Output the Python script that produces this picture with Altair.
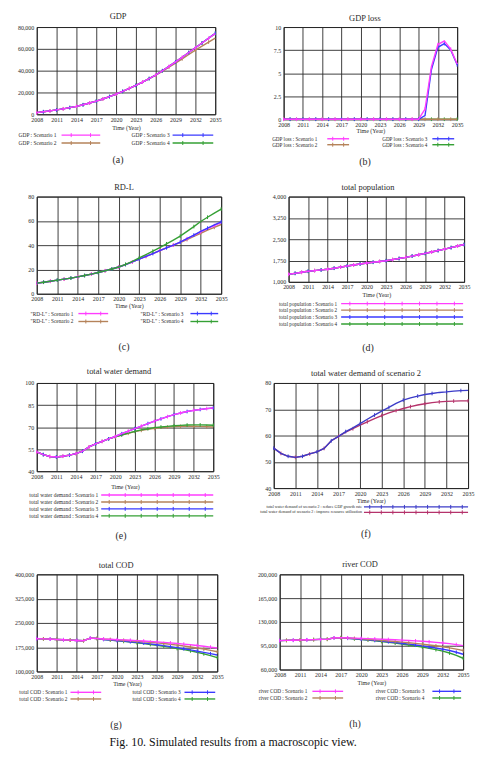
import altair as alt
import pandas as pd

YEARS = list(range(2008, 2036))
X_TICKS = [2008, 2011, 2014, 2017, 2020, 2023, 2026, 2029, 2032, 2035]

# ---------------- data ----------------
GDP_S1 = [1500, 2300, 3100, 4000, 5000, 6100, 7300, 8700, 10300, 12000, 14000, 16200, 18500, 21000,
          23700, 26500, 29500, 32700, 36000, 39900, 43900, 48000, 52300, 56600, 61000, 65300, 69700, 74000]
GDP_S2 = [1500, 2300, 3100, 4000, 5000, 6100, 7300, 8700, 10300, 12000, 14000, 16200, 18500, 21000,
          23700, 26500, 29500, 32700, 35800, 39400, 43100, 46900, 50800, 54800, 58800, 62500, 66200, 69800]
GDP_S3 = [1500, 2300, 3100, 4000, 5000, 6100, 7300, 8700, 10300, 12000, 14000, 16200, 18500, 21000,
          23700, 26500, 29500, 32700, 36000, 39900, 43900, 48000, 52300, 56600, 61000, 65400, 69900, 74300]
GDP_S4 = [1500, 2300, 3100, 4000, 5000, 6100, 7300, 8700, 10300, 12000, 14000, 16200, 18500, 21000,
          23700, 26500, 29500, 32700, 36000, 39900, 43900, 48000, 52300, 56600, 61000, 65300, 69700, 74000]

GL_S1 = [0, 0, 0, 0, 0, 0, 0, 0, 0, 0, 0, 0, 0, 0, 0, 0, 0, 0, 0, 0, 0, 0, 1.1, 5.7, 8.1, 8.5, 7.6, 6.0]
GL_S2 = [0, 0, 0, 0, 0, 0, 0, 0, 0, 0, 0, 0, 0, 0, 0, 0, 0, 0, 0, 0, 0, 0, 0, 0, 0, 0, 0, 0]
GL_S3 = [0, 0, 0, 0, 0, 0, 0, 0, 0, 0, 0, 0, 0, 0, 0, 0, 0, 0, 0, 0, 0, 0, 0.4, 5.4, 7.8, 8.2, 7.5, 5.9]
GL_S4 = [0, 0, 0, 0, 0, 0, 0, 0, 0, 0, 0, 0, 0, 0, 0, 0, 0, 0, 0, 0, 0, 0, 0, 0, 0, 0, 0, 0]

RD_S1 = [8.7, 9.5, 10.3, 11.2, 12.0, 12.9, 13.9, 15.0, 16.2, 17.5, 18.9, 20.4, 22.0, 24.0,
         26.2, 28.5, 30.8, 33.1, 35.5, 37.8, 40.1, 42.5, 45.3, 48.1, 51.0, 53.6, 56.1, 58.5]
RD_S2 = [8.7, 9.5, 10.3, 11.2, 12.0, 12.9, 13.9, 15.0, 16.2, 17.5, 18.9, 20.4, 22.0, 24.0,
         26.2, 28.5, 30.8, 33.1, 35.5, 37.8, 40.0, 42.0, 44.6, 47.2, 49.8, 52.3, 54.7, 57.0]
RD_S3 = [8.7, 9.5, 10.3, 11.2, 12.0, 12.9, 13.9, 15.0, 16.2, 17.5, 18.9, 20.4, 22.0, 24.0,
         26.2, 28.5, 30.8, 33.1, 35.5, 37.8, 40.1, 42.5, 45.4, 48.3, 51.3, 54.0, 56.6, 59.2]
RD_S4 = [8.7, 9.5, 10.3, 11.2, 12.0, 12.9, 13.9, 15.0, 16.2, 17.5, 18.9, 20.4, 22.0, 24.2,
         26.6, 29.5, 32.3, 35.1, 38.0, 41.1, 44.2, 47.4, 51.3, 55.3, 59.5, 63.0, 66.4, 69.7]

POP_S1 = [1265, 1300, 1336, 1372, 1395, 1419, 1442, 1480, 1519, 1558, 1593, 1628, 1663, 1690,
          1717, 1744, 1783, 1821, 1860, 1907, 1953, 2000, 2050, 2101, 2151, 2205, 2260, 2314]
POP_S2 = POP_S1
POP_S3 = POP_S1
POP_S4 = POP_S1

WD_S1 = [53.1, 51.3, 50.0, 49.7, 50.2, 50.9, 52.0, 53.6, 56.5, 58.6, 60.3, 62.0, 63.6, 65.5,
         67.3, 69.0, 70.7, 72.4, 74.0, 75.6, 77.1, 78.5, 79.6, 80.6, 81.4, 82.0, 82.6, 83.0]
WD_S2 = [53.1, 51.3, 50.0, 49.7, 50.2, 50.9, 52.0, 53.6, 56.5, 58.6, 60.3, 62.0, 63.3, 64.6,
         65.8, 66.9, 67.8, 68.5, 69.1, 69.6, 70.0, 70.3, 70.5, 70.6, 70.6, 70.5, 70.3, 70.1]
WD_S3 = WD_S1
WD_S4 = [53.1, 51.3, 50.0, 49.7, 50.2, 50.9, 52.0, 53.6, 56.5, 58.6, 60.3, 62.0, 63.3, 64.6,
         65.9, 67.1, 68.1, 68.9, 69.6, 70.1, 70.5, 70.9, 71.2, 71.4, 71.5, 71.5, 71.4, 71.3]

WD2_GDP = [55.2, 53.2, 52.1, 51.7, 52.1, 53.0, 53.8, 55.1, 58.0, 59.7, 61.5, 62.9, 64.5, 66.2,
           67.8, 69.3, 70.7, 72.2, 73.5, 74.3, 75.0, 75.6, 76.0, 76.4, 76.6, 76.9, 77.1, 77.2]
WD2_RES = [55.2, 53.2, 52.1, 51.7, 52.1, 53.0, 53.8, 55.1, 58.0, 59.7, 61.3, 62.6, 64.0, 65.2,
           66.4, 67.6, 68.6, 69.5, 70.3, 71.0, 71.6, 72.1, 72.5, 72.8, 73.0, 73.1, 73.2, 73.2]

TC_S1 = [201500, 200800, 200000, 199000, 198000, 196800, 195800, 195000, 203000, 202000,
         200500, 199500, 198500, 197500, 196400, 195300, 194100, 192800, 191400, 189900,
         188300, 186500, 184600, 182500, 180200, 177800, 175200, 172500]
TC_S2 = [201500, 200800, 200000, 199000, 198000, 196800, 195800, 195000, 203000, 202000,
         200200, 199000, 197800, 196500, 195100, 193600, 192000, 190300, 188400, 186300,
         184000, 181500, 178800, 175800, 172500, 169000, 165200, 161000]
TC_S3 = [201500, 200800, 200000, 199000, 198000, 196800, 195800, 195000, 203000, 202000,
         199000, 197300, 195600, 193800, 191900, 189800, 187600, 185200, 182600, 179800,
         176800, 173600, 170200, 166600, 162800, 159000, 155000, 151000]
TC_S4 = [201500, 200800, 200000, 199000, 198000, 196800, 195800, 195000, 203000, 202000,
         198800, 196900, 195000, 193000, 190800, 188500, 186000, 183400, 180600, 177600,
         174400, 171000, 167500, 163600, 159400, 154400, 148900, 143000]

RC_S1 = [102500, 102800, 103100, 103400, 103700, 104000, 104300, 104500, 106500, 106800,
         106600, 106200, 105800, 105400, 105000, 104600, 104200, 103700, 103200, 102700,
         102100, 101500, 100800, 100000, 99100, 98000, 96700, 95200]
RC_S2 = [102500, 102800, 103100, 103400, 103700, 104000, 104300, 104500, 106500, 106800,
         106400, 105800, 105100, 104400, 103600, 102800, 102000, 101200, 100300, 99400,
         98400, 97300, 96100, 94900, 93500, 91900, 90000, 88000]
RC_S3 = [102500, 102800, 103100, 103400, 103700, 104000, 104300, 104500, 106500, 106800,
         106000, 105300, 104600, 103700, 102800, 101800, 100800, 99700, 98600, 97400,
         96100, 94700, 93200, 91600, 89900, 87900, 85400, 82500]
RC_S4 = [102500, 102800, 103100, 103400, 103700, 104000, 104300, 104500, 106500, 106800,
         105800, 105000, 104200, 103300, 102300, 101200, 100000, 98800, 97500, 96100,
         94600, 93000, 91200, 89200, 87000, 84300, 80700, 76600]

# ---------------- styles ----------------
SERIF = "Liberation Serif"
INK = "#2a2a2a"
MAGENTA = "#ff3dff"
BROWN = "#b5835a"
BLUE = "#3a3aff"
GREEN = "#35a035"
F_BLUE = "#3c3cc8"
F_RED = "#b5336b"
ONE = pd.DataFrame({"k": [0]})


def txt(s, x, y, size, align="center"):
    return alt.Chart(pd.DataFrame({"t": [s]})).mark_text(
        font=SERIF, fontSize=size, align=align, baseline="middle", color=INK
    ).encode(x=alt.value(x), y=alt.value(y), text="t:N")


def ghost(x, y):
    # invisible spacer that only widens the panel's layout bounds
    return alt.Chart(ONE).mark_rule(opacity=0, strokeWidth=0.5).encode(
        x=alt.value(x), y=alt.value(y), y2=alt.value(y + 1))


def panel(cfg):
    W, H = cfg["W"], cfg["H"]
    x = alt.X("year:Q", title="Time (Year)",
              scale=alt.Scale(domain=[2008, 2035], nice=False, zero=False),
              axis=alt.Axis(values=X_TICKS, format="d", titlePadding=cfg["xtp"],
                            labelFlush=False, labelOverlap=False))
    y = alt.Y("value:Q", title=None,
              scale=alt.Scale(domain=cfg["ydom"], nice=False, zero=False),
              axis=alt.Axis(values=cfg["yticks"], format=cfg["yfmt"],
                            labelFlush=False, labelOverlap=False))
    layers = []
    for vals, color, moff in cfg["series"]:
        df = pd.DataFrame({"year": YEARS, "value": vals})
        layers.append(alt.Chart(df).mark_line(color=color, strokeWidth=1.4).encode(x=x, y=y))
        mk = df.iloc[moff::2]
        layers.append(alt.Chart(mk).mark_point(
            shape="M0,-1L0,1", size=14, color=color, strokeWidth=1, opacity=1, filled=False
        ).encode(x=x, y=y))
    tx, ty = cfg["title_at"]
    layers.append(txt(cfg["title"], tx, ty, 8.5))
    cx, cy = cfg["cap_at"]
    layers.append(txt(cfg["cap"], cx, cy, 10))
    fs = cfg["lfs"]
    for label, color, lx, x1, x2, ly, nmk in cfg["legend"]:
        layers.append(txt(label, lx, ly, fs, align="right"))
        layers.append(alt.Chart(ONE).mark_rule(color=color, strokeWidth=1.4).encode(
            x=alt.value(x1), x2=alt.value(x2), y=alt.value(ly)))
        for k in range(nmk):
            px = x1 + (x2 - x1) * (k + 0.5) / nmk
            layers.append(alt.Chart(ONE).mark_rule(color=color, strokeWidth=1).encode(
                x=alt.value(px), y=alt.value(ly - 2), y2=alt.value(ly + 2)))
    if "pad_left" in cfg:
        layers.append(ghost(-cfg["pad_left"], H / 2))
    if "pad_bottom" in cfg:
        layers.append(ghost(W / 2, cfg["pad_bottom"]))
    return alt.layer(*layers).properties(width=W, height=H)


def two_col(labels, colors, rows, c1, c2, nmk=2):
    lx1, a1, b1 = c1
    lx2, a2, b2 = c2
    return [
        (labels[0], colors[0], lx1, a1, b1, rows[0], nmk),
        (labels[1], colors[1], lx1, a1, b1, rows[1], nmk),
        (labels[2], colors[2], lx2, a2, b2, rows[0], nmk),
        (labels[3], colors[3], lx2, a2, b2, rows[1], nmk),
    ]


def one_col(labels, colors, rows, c, nmk):
    lx, a, b = c
    return [(labels[i], colors[i], lx, a, b, rows[i], nmk) for i in range(len(labels))]


SC = [MAGENTA, BROWN, BLUE, GREEN]


def names(prefix):
    return [f"{prefix} : Scenario {i}" for i in (1, 2, 3, 4)]


pa = panel(dict(
    W=180, H=88, title="GDP", title_at=(82, -11.2), cap="(a)", cap_at=(82, 134),
    ydom=[0, 80000], yticks=[0, 20000, 40000, 60000, 80000], yfmt=",d", xtp=2,
    series=[(GDP_S4, GREEN, 1), (GDP_S2, BROWN, 0), (GDP_S3, BLUE, 1), (GDP_S1, MAGENTA, 0)],
    lfs=5.5, legend=two_col(names("GDP"), SC, (109, 117), (20, 25, 64), (134, 137, 178)),
    pad_left=27, pad_bottom=142,
))
pb = panel(dict(
    W=175, H=93, title="GDP loss", title_at=(82, -9.2), cap="(b)", cap_at=(82, 136),
    ydom=[0, 10], yticks=[0, 2.5, 5, 7.5, 10], yfmt=".1~f", xtp=0,
    series=[(GL_S4, GREEN, 1), (GL_S2, BROWN, 0), (GL_S3, BLUE, 1), (GL_S1, MAGENTA, 0)],
    lfs=5.2, legend=two_col(names("GDP loss"), SC, (112.7, 118.7), (34, 44, 66), (145, 150, 172)),
))
pc = panel(dict(
    W=186, H=98, title="RD-L", title_at=(88, -10), cap="(c)", cap_at=(88, 152),
    ydom=[0, 80], yticks=[0, 20, 40, 60, 80], yfmt="d", xtp=1,
    series=[(RD_S2, BROWN, 0), (RD_S1, MAGENTA, 0), (RD_S3, BLUE, 1), (RD_S4, GREEN, 1)],
    lfs=5.3, legend=two_col(names('"RD-L"'), SC, (118, 126), (37, 42, 72), (148, 155, 183)),
    pad_left=19,
))
pd_ = panel(dict(
    W=177, H=86, title="total population", title_at=(80, -10), cap="(d)", cap_at=(80, 153),
    ydom=[1000, 4000], yticks=[1000, 1750, 2500, 3250, 4000], yfmt=",d", xtp=1.7,
    series=[(POP_S4, GREEN, 1), (POP_S2, BROWN, 0), (POP_S3, BLUE, 1), (POP_S1, MAGENTA, 0)],
    lfs=5.2, legend=one_col(names("total population"), SC, (108, 114.5, 121.5, 128.5), (49, 53, 176), 7),
))
pe = panel(dict(
    W=178, H=89, title="total water demand", title_at=(83, -12), cap="(e)", cap_at=(85, 154),
    ydom=[40, 100], yticks=[40, 55, 70, 85, 100], yfmt="d", xtp=4,
    series=[(WD_S2, BROWN, 0), (WD_S4, GREEN, 1), (WD_S3, BLUE, 1), (WD_S1, MAGENTA, 0)],
    lfs=5.5, legend=one_col(names("total water demand"), SC, (113, 120, 127, 134), (62, 65, 178), 7),
    pad_left=24, pad_bottom=164,
))
pf = panel(dict(
    W=196, H=106, title="total water demand of scenario 2", title_at=(93, -10), cap="(f)", cap_at=(93, 152),
    ydom=[40, 80], yticks=[40, 50, 60, 70, 80], yfmt="d", xtp=1.7,
    series=[(WD2_RES, F_RED, 1), (WD2_GDP, F_BLUE, 0)],
    lfs=4.1, legend=one_col(
        ["total water demand of scenario 2 : reduce GDP growth rate",
         "total water demand of scenario 2 : improve resource utilization"],
        [F_BLUE, F_RED], (125, 130.5), (89, 91, 196), 9),
))
pg = panel(dict(
    W=182, H=98, title="total COD", title_at=(80, -9), cap="(g)", cap_at=(80, 152),
    ydom=[100000, 400000], yticks=[100000, 175000, 250000, 325000, 400000], yfmt=",d", xtp=0.7,
    series=[(TC_S4, GREEN, 1), (TC_S3, BLUE, 0), (TC_S2, BROWN, 1), (TC_S1, MAGENTA, 0)],
    lfs=5.3, legend=two_col(names("total COD"), SC, (119, 125.7), (31, 34, 65), (145, 149, 180)),
    pad_left=27,
))
ph = panel(dict(
    W=185, H=96, title="river COD", title_at=(81, -10), cap="(h)", cap_at=(76, 151),
    ydom=[60000, 200000], yticks=[60000, 95000, 130000, 165000, 200000], yfmt=",d", xtp=1.7,
    series=[(RC_S4, GREEN, 1), (RC_S3, BLUE, 0), (RC_S2, BROWN, 1), (RC_S1, MAGENTA, 0)],
    lfs=5.3, legend=two_col(names("river COD"), SC, (118, 124.7), (28, 33, 64), (146, 154, 183)),
))

row1 = alt.hconcat(pa, pb, spacing=49)
row2 = alt.hconcat(pc, pd_, spacing=44)
row3 = alt.hconcat(pe, pf, spacing=39)
row4 = alt.hconcat(pg, ph, spacing=33)

chart = alt.vconcat(row1, row2, row3, row4, spacing=12).properties(
    title=alt.TitleParams("Fig. 10. Simulated results from a macroscopic view.", orient="bottom",
                          font=SERIF, fontSize=12, fontWeight="normal", color="#111111",
                          offset=7, anchor="middle", dx=-9),
    padding={"left": 1, "top": 0, "right": 0, "bottom": 0},
).configure_axis(
    labelFont=SERIF, labelFontSize=6, labelColor=INK, titleFont=SERIF, titleFontSize=6,
    titleFontWeight="normal", titleColor=INK, grid=True, gridColor=INK, gridWidth=0.9,
    gridOpacity=1, domain=False, ticks=False, labelPadding=2,
).configure_axisY(labelPadding=3).configure_view(stroke="#1a1a1a", strokeWidth=1)

chart.save("out.html", embed_options={"renderer": "svg", "actions": False})
